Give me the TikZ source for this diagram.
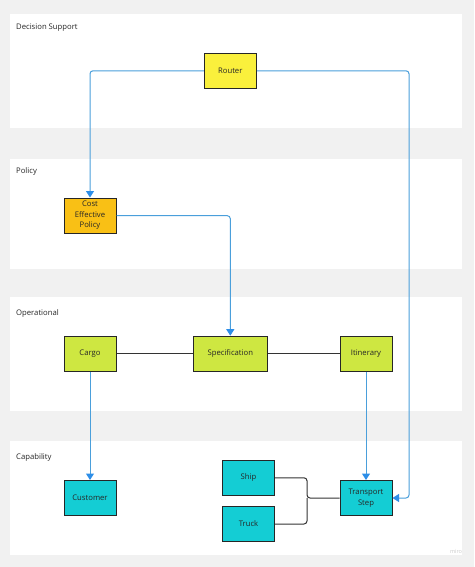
\documentclass[tikz,border=0pt]{standalone}
\usepackage{fontspec}
\setmainfont{Open Sans}
\usetikzlibrary{arrows.meta}
\definecolor{bggray}{HTML}{F1F1F1}
\definecolor{linkblue}{HTML}{4A9FDB}
\definecolor{tipblue}{HTML}{2D8EE8}
\definecolor{cyellow}{HTML}{FAF03C}
\definecolor{corange}{HTML}{F9C015}
\definecolor{cgreen}{HTML}{CEE741}
\definecolor{ccyan}{HTML}{14CDD4}
\definecolor{darkline}{HTML}{333333}
\tikzset{
  box/.style={draw=black!85, line width=1pt, minimum height=35pt, minimum width=52pt, inner sep=1pt, align=center, font=\fontsize{7.7}{10.5}\selectfont, text=black!85},
  lane/.style={fill=white, draw=none},
  lanelabel/.style={anchor=west, font=\fontsize{7.7}{9}\selectfont, text=black!85, inner sep=0pt},
  flow/.style={draw=linkblue, line width=1pt, rounded corners=3pt, -{Triangle[length=6.5pt,width=8pt,color=tipblue]}},
  plain/.style={draw=darkline, line width=1pt},
}
\begin{document}
\begin{tikzpicture}[x=1pt,y=-1pt]
\fill[bggray] (0,0) rectangle (474,567);
\useasboundingbox (0,0) rectangle (474,567);
% lanes
\fill[lane] (10,14) rectangle (461.5,127.5);
\fill[lane] (10,159) rectangle (461.5,269);
\fill[lane] (10,297) rectangle (461.5,410.5);
\fill[lane] (10,441) rectangle (461.5,555);
\node[lanelabel] (l1) at (16,28) {Decision Support};
\node[lanelabel] (l2) at (16,171.5) {Policy};
\node[lanelabel] (l3) at (16,313) {Operational};
\node[lanelabel] (l4) at (16,457) {Capability};
% nodes
\node[box, fill=cyellow] (router) at (230.3,70.8) {Router};
\node[box, fill=corange] (cep) at (90,215.5) {Cost\\Effective\\Policy};
\node[box, fill=cgreen] (cargo) at (90,353.7) {Cargo};
\node[box, fill=cgreen, minimum width=74pt] (spec) at (230.3,353.7) {Specification};
\node[box, fill=cgreen] (itin) at (366,353.7) {Itinerary};
\node[box, fill=ccyan] (cust) at (90,498) {Customer};
\node[box, fill=ccyan] (ship) at (248.5,477.8) {Ship};
\node[box, fill=ccyan] (truck) at (248.5,524) {Truck};
\node[box, fill=ccyan] (ts) at (366,498) {Transport\\Step};
% plain links
\draw[plain] (cargo.east) -- (spec.west);
\draw[plain] (spec.east) -- (itin.west);
\coordinate (jx) at (307,498);
\draw[plain, rounded corners=3pt] (ship.east) -| (jx) -- (ts.west);
\draw[plain, rounded corners=3pt] (truck.east) -| (jx);
% flows
\draw[flow] (router.west) -| (cep.north);
\coordinate (rr) at (409,70.8);
\draw[flow] (router.east) -- (rr) |- (ts.east);
\draw[flow] (cep.east |- 0,215.7) -| (spec.north);
\draw[flow] (cargo.south) -- (cust.north);
\draw[flow] (itin.south) -- (ts.north);
\node[font=\fontsize{5.5}{6}\selectfont, text=black!20, inner sep=0pt] (miro) at (456,552) {miro};
\end{tikzpicture}
\end{document}
